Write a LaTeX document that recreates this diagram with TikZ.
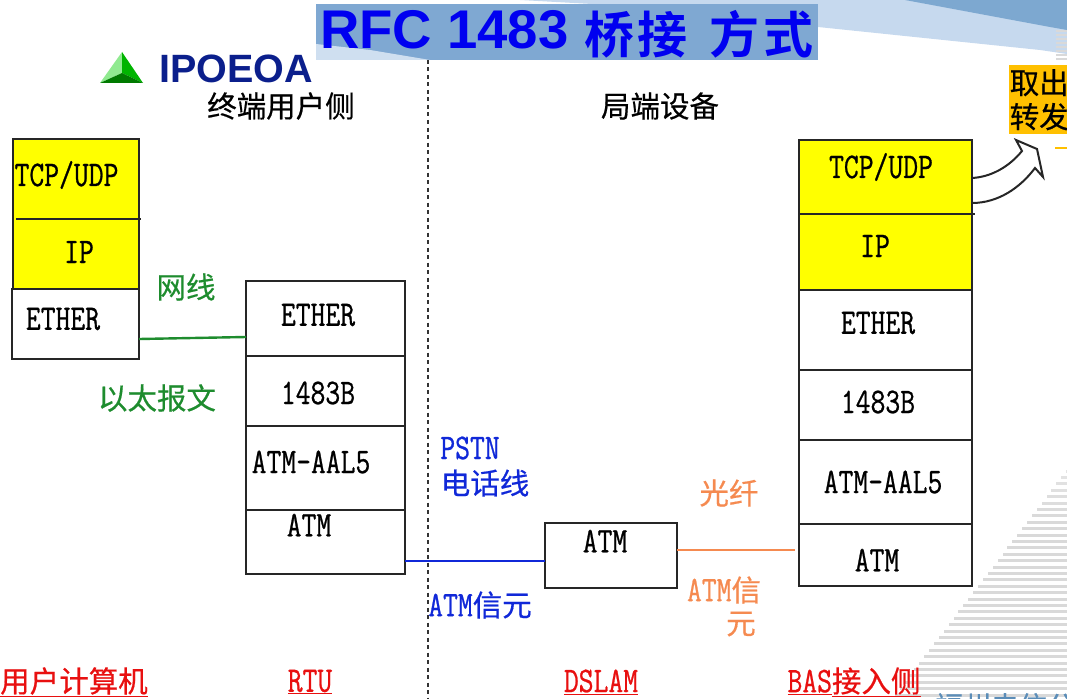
\documentclass[tikz,border=0pt]{standalone}
\usepackage{fontspec}
\newfontfamily\monof[FakeStretch=0.8,FakeBold=0.7]{Latin Modern Mono}
\newfontfamily\cjk[FakeBold=0.5]{Noto Sans CJK SC}
\newfontfamily\cjkb[BoldFont={Noto Sans CJK SC Bold}]{Noto Sans CJK SC}
\newfontfamily\heads[Ligatures=TeX]{Liberation Sans}
\definecolor{bandblue}{HTML}{7FA8D2}
\definecolor{bandlight}{HTML}{C6D9EE}
\definecolor{banddark}{HTML}{7DA8D0}
\definecolor{titleblue}{HTML}{0000F0}
\definecolor{navy}{HTML}{0B1F8C}
\definecolor{netgreen}{HTML}{1E8C2E}
\definecolor{fibre}{HTML}{F58A50}
\definecolor{lineblue}{HTML}{1028D8}
\definecolor{labred}{HTML}{E81010}
\definecolor{tagorange}{HTML}{FFC000}
\definecolor{footblue}{HTML}{5B8DB8}
\definecolor{layeryellow}{HTML}{FFFF00}
\definecolor{logolight}{HTML}{90EA90}
\definecolor{logomid}{HTML}{00B400}
\definecolor{logodark}{HTML}{007A00}
\tikzset{
  layer/.style={draw=black!85,line width=1.6pt,anchor=north west,inner sep=0pt,outer sep=0pt,fill=white},
  yellowlayer/.style={layer,fill=layeryellow},
  mono/.style={font=\monof\fontsize{36}{36}\selectfont,inner sep=0pt,text=black},
  cjktext/.style={font=\cjk\fontsize{29.5}{32}\selectfont,inner sep=0pt},
  wire/.style={line width=2.4pt},
  redlabel/.style={text=labred,inner sep=0pt}
}
\newcommand{\redm}[1]{\underline{\monof\fontsize{36}{36}\selectfont #1}}
\newcommand{\redc}[1]{\underline{\cjk\fontsize{29.5}{32}\selectfont #1}}
\begin{document}
\begin{tikzpicture}[x=1pt,y=-1pt]
\path[use as bounding box] (0,0) rectangle (1067,698);
\clip (0,0) rectangle (1067,698);
% background band, top right
\fill[bandlight] (520,0) -- (1067,0) -- (1067,54) -- (1040,50) -- (818,27) -- (700,10) -- cycle;
\fill[banddark] (905,0) -- (1067,0) -- (1067,30) -- (1050,27) -- cycle;
\foreach \yy in {30,34,...,58} \fill[black!15] (1056,\yy) rectangle (1067,\yy+2);
% background stripes, bottom right
\foreach \i in {0,...,49} {
  \pgfmathsetmacro{\yy}{380+6.4*\i}
  \pgfmathsetmacro{\xx}{997-(\yy-560)*0.765}
  \pgfmathsetmacro{\tone}{min(15,2+\i*0.6)}
  \fill[black!\tone] (\xx,\yy) rectangle (1067,\yy+3);
}
\node[font=\cjk\fontsize{28}{30}\selectfont,text=footblue,anchor=west,inner sep=0pt] (foot) at (935,706) {福州电信公};
% title
\fill[bandblue] (316,4) rectangle (818,60);
\fill[bandlight!85!white] (316,44) -- (370,50) -- (430,60) -- (316,60) -- cycle;
\node[font=\heads\bfseries\fontsize{54.5}{56}\selectfont,text=titleblue,anchor=west,inner sep=0pt] (title) at (320,30) {RFC 1483};
\node[font=\cjkb\bfseries\fontsize{50}{52}\selectfont,text=titleblue,anchor=west,inner sep=0pt] (titlecjk) at (584,34) {桥\hspace{3pt}接\hspace{22pt}方\hspace{4pt}式};
% logo
\fill[logolight] (122,52) -- (100,83) -- (122,73) -- cycle;
\fill[logomid] (122,52) -- (143,83) -- (122,73) -- cycle;
\fill[logodark] (100,83) -- (143,83) -- (122,73) -- cycle;
\node[font=\heads\bfseries\fontsize{39.5}{42}\selectfont,text=navy,anchor=west,inner sep=0pt] (logo) at (159,69) {IPOEOA};
% divider
\coordinate (divtop) at (428,60);
\coordinate (divbot) at (428,698);
\draw[line width=2pt,black!80,dash pattern=on 4pt off 3.5pt] (divtop) -- (divbot);
% headings
\node[cjktext] (hleft) at (281,106) {终端用户侧};
\node[cjktext] (hright) at (660,106) {局端设备};
% user computer stack
\node[yellowlayer,minimum width=126pt,minimum height=150pt] (pcup) at (13,139) {};
\coordinate (pcsepl) at (16,219);
\coordinate (pcsepr) at (141,219);
\draw[line width=1.4pt,black!85] (pcsepl) -- (pcsepr);
\node[layer,line width=2.2pt,minimum width=127pt,minimum height=70pt] (pceth) at (12,289) {};
\node[mono] (t1) at (66.5,175) {TCP/UDP};
\node[mono] (t2) at (79,252) {IP};
\node[mono] (t3) at (63,319) {ETHER};
% RTU stack
\node[layer,minimum width=159pt,minimum height=75pt] (rtua) at (246,281) {};
\node[layer,minimum width=159pt,minimum height=70pt] (rtub) at (246,356) {};
\node[layer,minimum width=159pt,minimum height=84pt] (rtuc) at (246,426) {};
\node[layer,minimum width=159pt,minimum height=64pt] (rtud) at (246,510) {};
\node[mono] (t4) at (318,315) {ETHER};
\node[mono] (t5) at (318,393) {1483B};
\node[mono] (t6) at (311,462) {ATM-AAL5};
\node[mono] (t7) at (309,525) {ATM};
% DSLAM
\node[layer,minimum width=132pt,minimum height=65pt] (dslam) at (545,523) {};
\node[mono] (t8) at (605,541) {ATM};
% curved block arrow
\coordinate (arrA) at (972,178);
\coordinate (arrB) at (972,203);
\filldraw[fill=white,draw=black!85,line width=2pt,line join=miter]
  (arrA) .. controls (990,177) and (1008,168) .. (1022,151)
  -- (1016,140) -- (1037,149) -- (1043,177) -- (1035,168)
  .. controls (1020,188) and (998,203) .. (arrB);
% BAS stack
\node[yellowlayer,minimum width=173pt,minimum height=74pt] (basa) at (799,140) {};
\node[yellowlayer,minimum width=173pt,minimum height=76pt] (basb) at (799,214) {};
\node[layer,minimum width=173pt,minimum height=80pt] (basc) at (799,290) {};
\node[layer,minimum width=173pt,minimum height=70pt] (basd) at (799,370) {};
\node[layer,minimum width=173pt,minimum height=84pt] (base) at (799,440) {};
\node[layer,minimum width=173pt,minimum height=62pt] (basf) at (799,524) {};
\draw[line width=1.4pt,black!85] (basa.south east) -- ++(3,0);
\draw[line width=2.4pt,black!85] (arrA) -- (arrB);
\node[mono] (t9) at (881,167) {TCP/UDP};
\node[mono] (t10) at (875,246) {IP};
\node[mono] (t11) at (878,323) {ETHER};
\node[mono] (t12) at (878,402) {1483B};
\node[mono] (t13) at (883,482) {ATM-AAL5};
\node[mono] (t14) at (877,560) {ATM};
% orange tag
\node[fill=tagorange,anchor=north west,minimum width=60pt,minimum height=69pt,inner sep=0pt,align=left,font=\cjk\fontsize{29.5}{34}\selectfont,text=black] (tag) at (1009,65) {取出\\转发};
\coordinate (tickl) at (1055,148);
\coordinate (tickr) at (1067,148);
\draw[tagorange,line width=1.2pt] (tickl) -- (tickr);
% connectors
\draw[wire,netgreen] ([yshift=-15pt]pceth.east) -- ([yshift=-18.5pt]rtua.west);
\draw[wire,lineblue] ([yshift=-19pt]rtud.east) -- ([yshift=-5.5pt]dslam.west);
\draw[wire,fibre] ([yshift=5.5pt]dslam.east) -- ([xshift=-4pt,yshift=5pt]basf.west);
% labels
\node[cjktext,text=netgreen] (l1) at (186,287) {网线};
\node[cjktext,text=netgreen] (l2) at (157,398) {以太报文};
\node[mono,text=lineblue] (l3) at (470,448) {PSTN};
\node[cjktext,text=lineblue] (l4) at (485,483) {电话线};
\node[text=lineblue,inner sep=0pt] (l5) at (480,605) {{\monof\fontsize{36}{36}\selectfont ATM}{\cjk\fontsize{29.5}{32}\selectfont 信元}};
\node[cjktext,text=fibre] (l6) at (729,493) {光纤};
\node[text=fibre,inner sep=0pt] (l7) at (724,590) {{\monof\fontsize{36}{36}\selectfont ATM}{\cjk\fontsize{29.5}{32}\selectfont 信}};
\node[cjktext,text=fibre] (l8) at (741,624) {元};
% footers
\node[redlabel] (f1) at (74,682) {\redc{用户计算机}};
\node[redlabel] (f2) at (310,682) {\redm{RTU}};
\node[redlabel] (f3) at (601,682) {\redm{DSLAM}};
\node[redlabel] (f4) at (854,682) {\redm{BAS}\redc{接入侧}};
\end{tikzpicture}
\end{document}
